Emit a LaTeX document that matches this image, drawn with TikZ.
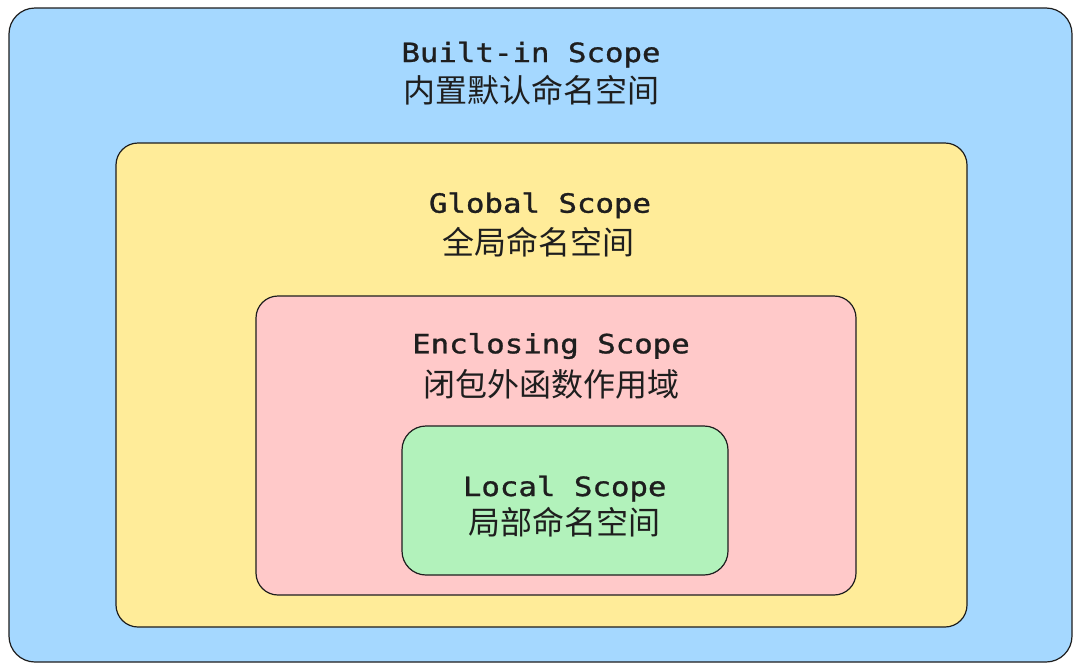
\documentclass[tikz,border=0pt]{standalone}
\usepackage{fontspec}
\newfontfamily\monof[FakeStretch=1.16, FakeBold=1.1]{DejaVu Sans Mono}
\newfontfamily\cjk{Noto Sans CJK SC}
\definecolor{ink}{HTML}{1E1E1E}
\definecolor{cblue}{HTML}{A5D8FF}
\definecolor{cyellow}{HTML}{FFEC99}
\definecolor{cpink}{HTML}{FFC9C9}
\definecolor{cgreen}{HTML}{B2F2BB}
\begin{document}
\begin{tikzpicture}[x=1pt,y=-1pt,
  scopebox/.style={draw=ink, line width=1.2pt, line join=round},
  entitle/.style={anchor=base, inner sep=0pt, text=ink, font=\monof\fontsize{26.5}{30}\selectfont},
  zhtitle/.style={anchor=base, inner sep=0pt, text=ink, font=\cjk\fontsize{32}{36}\selectfont}]
\useasboundingbox (0,0) rectangle (1080,670);
\fill[white] (0,0) rectangle (1080,670);
% boxes
\draw[scopebox, fill=cblue, rounded corners=26pt] (9,8) rectangle (1072,662);
\draw[scopebox, fill=cyellow, rounded corners=22pt] (116,143) rectangle (967,627);
\draw[scopebox, fill=cpink, rounded corners=22pt] (256,296) rectangle (856,595);
\draw[scopebox, fill=cgreen, rounded corners=24pt] (402,426) rectangle (728,575);
% texts
\node[entitle] (builtinEn) at (531,62) {Built-in Scope};
\node[zhtitle] (builtinZh) at (531,102) {内置默认命名空间};
\node[entitle] (globalEn) at (540,212.7) {Global Scope};
\node[zhtitle] (globalZh) at (538.5,254) {全局命名空间};
\node[entitle] (enclEn) at (551,353.3) {Enclosing Scope};
\node[zhtitle] (enclZh) at (551,396) {闭包外函数作用域};
\node[entitle] (localEn) at (564.7,496) {Local Scope};
\node[zhtitle] (localZh) at (564.5,534) {局部命名空间};
\end{tikzpicture}
\end{document}
